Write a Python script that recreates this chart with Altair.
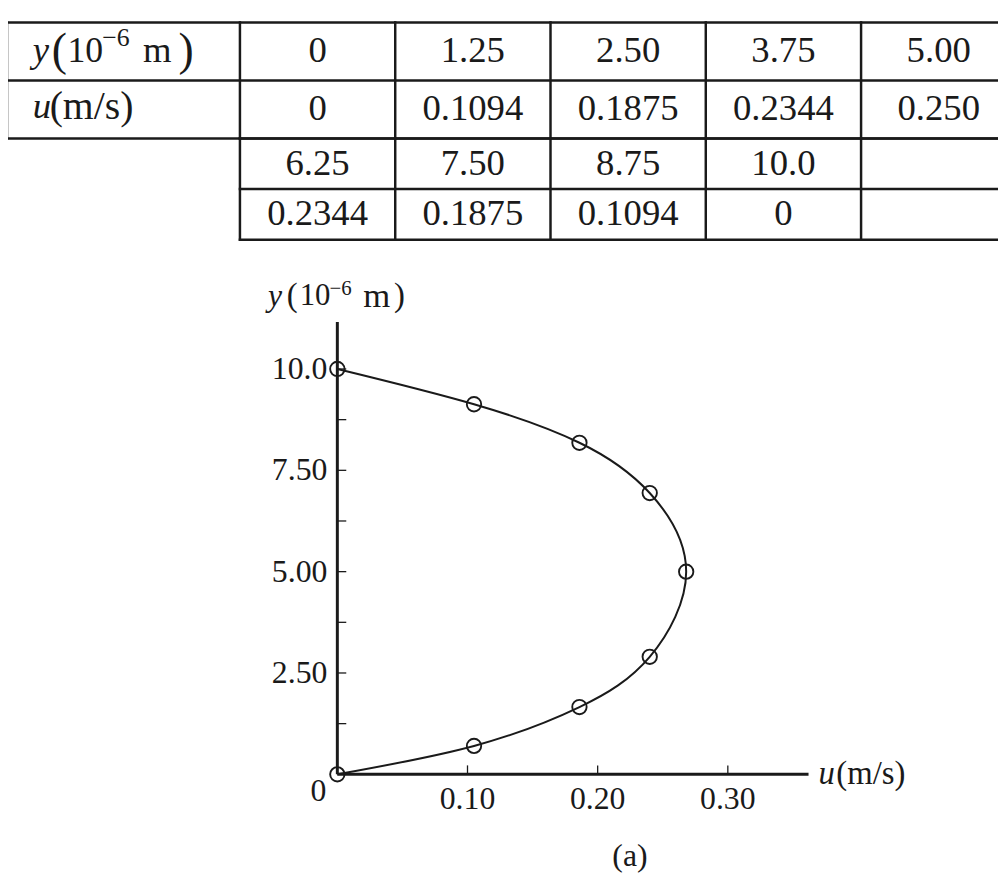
import altair as alt
import pandas as pd

# ---------------- data ----------------
# table values (as printed)
y_labels = ["0", "1.25", "2.50", "3.75", "5.00", "6.25", "7.50", "8.75", "10.0"]
u_labels = ["0", "0.1094", "0.1875", "0.2344", "0.250", "0.2344", "0.1875", "0.1094", "0"]
n_top = 5  # number of value columns in the first block of the table

# plotted points
u_pts = [0.0, 0.105, 0.186, 0.240, 0.268, 0.240, 0.186, 0.105, 0.0]
y_pts = [0.0, 0.70, 1.66, 2.90, 5.00, 6.94, 8.18, 9.13, 10.0]

# axis ticks / labels
y_tick_pos = [1.25, 2.5, 3.75, 5.0, 6.25, 7.5, 8.75, 10.0]
y_lab_pos = [2.5, 5.0, 7.5, 10.0]
y_lab_txt = ["2.50", "5.00", "7.50", "10.0"]
x_tick_pos = [0.1, 0.2, 0.3]
x_lab_txt = ["0.10", "0.20", "0.30"]
U_MAX = 0.362
Y_MAX = 11.16

FONT = "Liberation Serif"
INK = "#1a1a1a"

# ---------------- scales ----------------
TX = alt.Scale(domain=[-1, 5.5], range=[-1, 1016.5], nice=False, zero=False)
TY_top = alt.Scale(domain=[0, 2], range=[11, 128], nice=False, zero=False)
TY_bot = alt.Scale(domain=[0, 2], range=[128, 230], nice=False, zero=False)
PX = alt.Scale(domain=[0, U_MAX], range=[332, 807], nice=False, zero=False)
PY = alt.Scale(domain=[0, Y_MAX], range=[769, 313], nice=False, zero=False)

one = pd.DataFrame({"_": [0]})


def piece(text, xd, yd, xs, ys, dx, dy, size, italic=False, align="left"):
    return alt.Chart(one).mark_text(
        text=text, font=FONT, fontSize=size,
        fontStyle="italic" if italic else "normal",
        align=align, baseline="middle", dx=dx, dy=dy, color=INK,
    ).encode(
        x=alt.XDatum(xd, scale=xs, type="quantitative", axis=None),
        y=alt.YDatum(yd, scale=ys, type="quantitative", axis=None),
    )


def grid(vx, hy, x0, x1, ys):
    v = pd.DataFrame({"xb": vx, "y0": [0] * len(vx), "y1": [2] * len(vx)})
    h = pd.DataFrame({"yb": hy, "x0": [x0] * len(hy), "x1": [x1] * len(hy)})
    vr = alt.Chart(v).mark_rule(color=INK, strokeWidth=2.5, strokeCap="square").encode(
        x=alt.X("xb:Q", scale=TX, axis=None),
        y=alt.Y("y0:Q", scale=ys, axis=None), y2="y1:Q")
    hr = alt.Chart(h).mark_rule(color=INK, strokeWidth=2.5, strokeCap="square").encode(
        x=alt.X("x0:Q", scale=TX, axis=None), x2="x1:Q",
        y=alt.Y("yb:Q", scale=ys, axis=None))
    return vr, hr


def cells(ylist, ulist, ys):
    n = len(ylist)
    df = pd.DataFrame({
        "col": list(range(1, n + 1)) * 2,
        "row": [0] * n + [1] * n,
        "txt": list(ylist) + list(ulist),
    })
    return alt.Chart(df).transform_calculate(yc="datum.row + 0.5").mark_text(
        font=FONT, fontSize=37, align="center", baseline="middle", color=INK
    ).encode(
        x=alt.X("col:Q", scale=TX, axis=None),
        y=alt.Y("yc:Q", scale=ys, axis=None),
        text="txt:N",
    )


# ---------------- table ----------------
vt, ht = grid([-1] + [c + 0.5 for c in range(n_top)], [0, 1, 2], -1, 5.5, TY_top)
top_cells = cells(y_labels[:n_top], u_labels[:n_top], TY_top)
hdr = [
    piece("y", -1, 0.5, TX, TY_top, 26, 0, 37, italic=True),
    piece("(", -1, 0.5, TX, TY_top, 45, 0, 46),
    piece("10", -1, 0.5, TX, TY_top, 61, 0, 36),
    piece("\u22126", -1, 0.5, TX, TY_top, 96, -13, 26),
    piece("m", -1, 0.5, TX, TY_top, 137, 0, 37),
    piece(")", -1, 0.5, TX, TY_top, 173, 0, 46),
    piece("u", -1, 1.5, TX, TY_top, 26, -2, 37, italic=True),
    piece("(m/s)", -1, 1.5, TX, TY_top, 43, -2, 40),
]
table_top = alt.layer(vt, ht, top_cells, *hdr)

n_bot = len(y_labels) - n_top
vb, hb = grid([c + 0.5 for c in range(n_bot + 1)], [0, 1, 2], 0.5, 5.5, TY_bot)
bot_cells = cells(y_labels[n_top:], u_labels[n_top:], TY_bot)
table_bot = alt.layer(vb, hb, bot_cells)

# ---------------- plot ----------------
pts = pd.DataFrame({"u": u_pts, "y": y_pts})

yaxis = alt.Chart(one).mark_rule(color=INK, strokeWidth=3).encode(
    x=alt.XDatum(0, scale=PX, type="quantitative", axis=None),
    y=alt.YDatum(0, scale=PY, type="quantitative", axis=None),
    y2=alt.Y2Datum(Y_MAX))
xaxis = alt.Chart(one).mark_rule(color=INK, strokeWidth=3).encode(
    x=alt.XDatum(0, scale=PX, type="quantitative", axis=None),
    x2=alt.X2Datum(U_MAX),
    y=alt.YDatum(0, scale=PY, type="quantitative", axis=None))

yt = pd.DataFrame({"v": y_tick_pos, "z": [0] * len(y_tick_pos)})
yticks = alt.Chart(yt).mark_rule(color=INK, strokeWidth=1.3, x2Offset=9).encode(
    x=alt.X("z:Q", scale=PX, axis=None), x2="z:Q",
    y=alt.Y("v:Q", scale=PY, axis=None))
xt = pd.DataFrame({"v": x_tick_pos, "z": [0] * len(x_tick_pos), "t": x_lab_txt})
xticks = alt.Chart(xt).mark_rule(color=INK, strokeWidth=1.3, y2Offset=-9).encode(
    x=alt.X("v:Q", scale=PX, axis=None),
    y=alt.Y("z:Q", scale=PY, axis=None), y2="z:Q")

yl = pd.DataFrame({"v": y_lab_pos, "z": [0] * len(y_lab_pos), "t": y_lab_txt})
ylabels = alt.Chart(yl).mark_text(font=FONT, fontSize=32, align="right", baseline="middle",
                                  dx=-10, color=INK).encode(
    x=alt.X("z:Q", scale=PX, axis=None), y=alt.Y("v:Q", scale=PY, axis=None), text="t:N")
xlabels = alt.Chart(xt).mark_text(font=FONT, fontSize=32, align="center", baseline="middle",
                                  dy=25, color=INK).encode(
    x=alt.X("v:Q", scale=PX, axis=None), y=alt.Y("z:Q", scale=PY, axis=None), text="t:N")
zero_lab = piece("0", 0, 0, PX, PY, -19, 17, 32, align="center")

curve = alt.Chart(pts).mark_line(interpolate="natural", color=INK, strokeWidth=2).encode(
    x=alt.X("u:Q", scale=PX, axis=None),
    y=alt.Y("y:Q", scale=PY, axis=None),
    order="y:Q")
dots = alt.Chart(pts).mark_point(shape="circle", filled=False, size=210, strokeWidth=1.9,
                                 color=INK, opacity=1).encode(
    x=alt.X("u:Q", scale=PX, axis=None),
    y=alt.Y("y:Q", scale=PY, axis=None))

ytitle = [
    piece("y", 0, Y_MAX, PX, PY, -70, -26, 32, italic=True),
    piece("(", 0, Y_MAX, PX, PY, -51, -26, 33),
    piece("10", 0, Y_MAX, PX, PY, -38, -26, 31),
    piece("\u22126", 0, Y_MAX, PX, PY, -8, -33, 21),
    piece("m", 0, Y_MAX, PX, PY, 26, -26, 35),
    piece(")", 0, Y_MAX, PX, PY, 57, -26, 33),
]
xtitle = [
    piece("u", U_MAX, 0, PX, PY, 10, 0, 33, italic=True),
    piece("(m/s)", U_MAX, 0, PX, PY, 28, 0, 33),
]

caption = alt.Chart(one).mark_text(text="(a)", font=FONT, fontSize=32, align="center",
                                   baseline="middle", color=INK).encode(
    x=alt.value(627), y=alt.value(851))

plot = alt.layer(yaxis, xaxis, yticks, xticks, ylabels, xlabels, zero_lab,
                 curve, dots, *ytitle, *xtitle, caption)

chart = alt.layer(table_top, table_bot, plot).resolve_scale(
    x="independent", y="independent"
).properties(
    width=998, height=868, padding=0,
    autosize=alt.AutoSizeParams(type="none"),
    background="white",
).configure_view(stroke=None)

chart.save("out.html", embed_options={"renderer": "svg", "actions": False})
